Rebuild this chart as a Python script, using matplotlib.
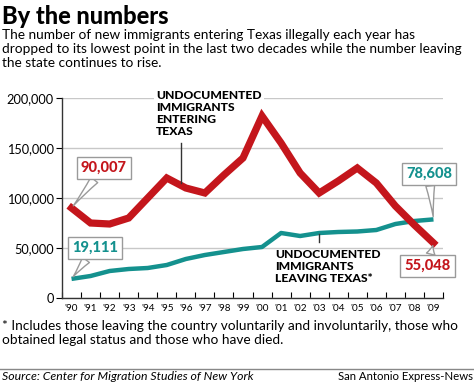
import numpy as np
import matplotlib.pyplot as plt

years = ["'90", "'91", "'92", "'93", "'94", "'95", "'96", "'97", "'98", "'99",
         "'00", "'01", "'02", "'03", "'04", "'05", "'06", "'07", "'08", "'09"]
entering = [90007, 75000, 74000, 80000, 100000, 120000, 110000, 105000, 123000, 140000,
            182000, 155000, 125000, 105000, 117000, 130000, 115000, 92000, 73000, 55048]
leaving = [19111, 22000, 27000, 29000, 30000, 33000, 39000, 43000, 46000, 49000,
           51000, 65000, 62000, 65000, 66000, 66500, 68000, 74000, 77000, 78608]
yticks = [0, 50000, 100000, 150000, 200000]

RED = "#c4161c"
TEAL = "#14918e"
FONT = "Lato"
HEAVY = ["Lato Black", "Lato"]

fig = plt.figure(figsize=(4.74, 3.84), dpi=100)
ax = fig.add_axes([62 / 474, 1 - 298 / 384, 381 / 474, 200 / 384])

x = np.arange(len(years))
ax.plot(x, leaving, color=TEAL, lw=3.2, solid_capstyle="butt", zorder=3)
ax.plot(x, entering, color=RED, lw=5.2, solid_joinstyle="miter", zorder=4)

ax.set_xlim(-0.5, len(years) - 0.5)
ax.set_ylim(0, 200000)
ax.set_yticks(yticks)
ax.set_yticklabels(["{:,}".format(v) for v in yticks], fontsize=9.2, family=FONT)
ax.set_xticks(x)
ax.set_xticklabels(years, fontsize=7.2, family=FONT)
ax.tick_params(axis="x", length=0, pad=4)
ax.set_xticks(np.arange(-0.5, len(years)), minor=True)
ax.tick_params(axis="x", which="minor", direction="in", length=4, width=0.8)
ax.tick_params(axis="y", length=4, width=0.8, pad=2)
ax.grid(axis="y", color="#c8c8c8", lw=1)
ax.set_axisbelow(True)
for s in ["top", "right"]:
    ax.spines[s].set_visible(False)
for s in ["left", "bottom"]:
    ax.spines[s].set_color("#333333")
    ax.spines[s].set_linewidth(1)

# callouts
def callout(xy, xytext, txt, col):
    ax.annotate(txt, xy=xy, xytext=xytext, textcoords="data", ha="center", va="center",
                fontsize=10.5, fontweight="black", family=HEAVY, color=col, zorder=6,
                bbox=dict(boxstyle="square,pad=0.3", fc="white", ec="#9a9a9a", lw=1),
                arrowprops=dict(arrowstyle="wedge,tail_width=0.6,shrink_factor=0.4",
                                fc="white", ec="#9a9a9a", lw=1, shrinkA=0, shrinkB=2))

callout((0, entering[0]), (1.7, 130000), "90,007", RED)
callout((0, leaving[0]), (1.23, 50000), "19,111", TEAL)
callout((19, leaving[-1]), (18.77, 124000), "78,608", TEAL)
callout((19, entering[-1]), (18.7, 32000), "55,048", RED)

ax.text(4.45, 208000, "UNDOCUMENTED\nIMMIGRANTS\nENTERING\nTEXAS", ha="left", va="top",
        fontsize=8.7, fontweight="black", family=HEAVY, linespacing=1.1, zorder=3.5,
        bbox=dict(boxstyle="square,pad=0.15", fc="white", ec="none"))
ax.plot([5.75, 5.75], [155000, 115000], color="#333333", lw=1, zorder=5)
ax.text(10.7, 49000, "UNDOCUMENTED\nIMMIGRANTS\nLEAVING TEXAS*", ha="left", va="top",
        fontsize=8.7, fontweight="black", family=HEAVY, linespacing=1.1, zorder=5)
ax.plot([13, 13], [64000, 56000], color="#333333", lw=1, zorder=5)

# header and footer
fig.text(0.004, 1 - 17 / 384, "By the numbers", fontsize=17, fontweight="black",
         family=HEAVY, va="center")
fig.text(0.004, 1 - 29 / 384,
         "The number of new immigrants entering Texas illegally each year has\n"
         "dropped to its lowest point in the last two decades while the number leaving\n"
         "the state continues to rise.", fontsize=9.8, family=FONT, va="top", linespacing=1.22)
fig.text(0.004, 1 - 320 / 384,
         "* Includes those leaving the country voluntarily and involuntarily, those who\n"
         "obtained legal status and those who have died.", fontsize=9.8, family=FONT,
         va="top", linespacing=1.22)
fig.add_artist(plt.Line2D([0, 1], [1 - 369 / 384] * 2, color="#888888", lw=1))
fig.text(0.004, 1 - 377 / 384, "Source: Center for Migration Studies of New York",
         fontsize=8.8, style="italic", family=FONT, va="center")
fig.text(0.997, 1 - 377 / 384, "San Antonio Express-News", fontsize=8.2, family=FONT,
         va="center", ha="right")

fig.savefig("out.png", dpi=100)
